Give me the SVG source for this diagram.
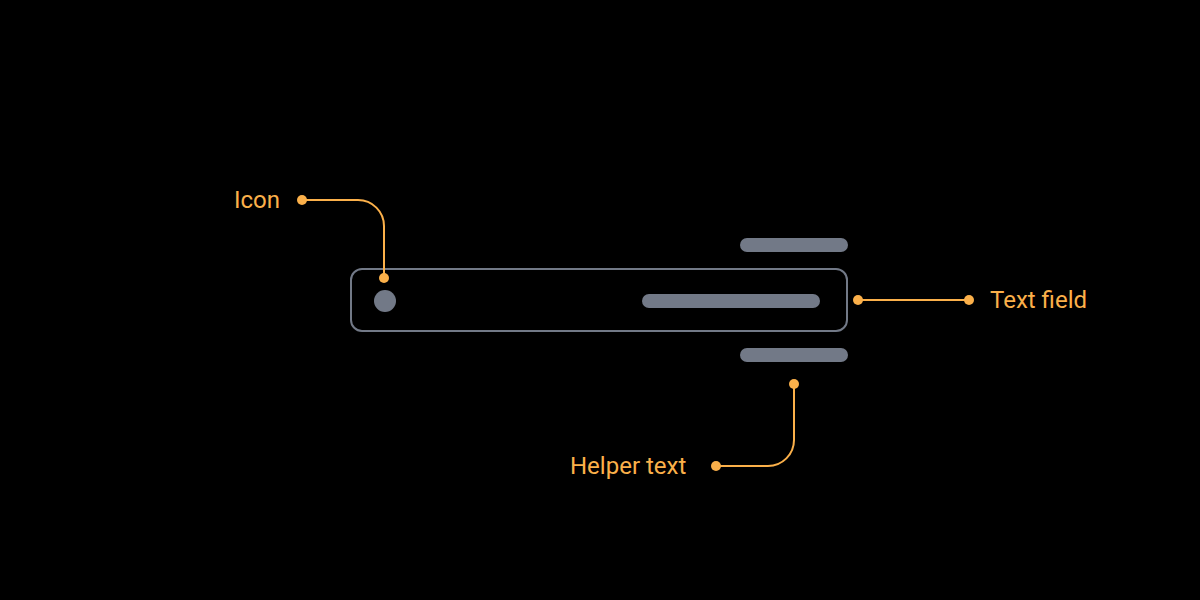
<svg xmlns="http://www.w3.org/2000/svg" width="1200" height="600" viewBox="0 0 1200 600">
<style>
.bar{fill:#727987}
.lbl{font-family:Roboto,"Liberation Sans",sans-serif;font-size:24px;fill:#fbb04a}
.ln{fill:none;stroke:#fbb04a;stroke-width:2}
.dot{fill:#fbb04a}
</style>
<rect width="1200" height="600" fill="#000"/>
<g id="field">
<rect x="351" y="269" width="496" height="62" rx="11" fill="none" stroke="#727987" stroke-width="2"/>
<circle cx="385" cy="301" r="11" class="bar"/>
<rect x="642" y="294" width="178" height="14" rx="7" class="bar"/>
</g>
<g id="bar-top"><rect x="740" y="238" width="108" height="14" rx="7" class="bar"/></g>
<g id="bar-bottom"><rect x="740" y="348" width="108" height="14" rx="7" class="bar"/></g>
<g id="connectors">
<path class="ln" d="M302 200H358A26 26 0 0 1 384 226V278"/>
<path class="ln" d="M858 300H969"/>
<path class="ln" d="M794 384V440A26 26 0 0 1 768 466H716"/>
<circle class="dot" cx="302" cy="200" r="5"/>
<circle class="dot" cx="384" cy="278" r="5"/>
<circle class="dot" cx="858" cy="300" r="5"/>
<circle class="dot" cx="969" cy="300" r="5"/>
<circle class="dot" cx="794" cy="384" r="5"/>
<circle class="dot" cx="716" cy="466" r="5"/>
</g>
<g id="label-icon"><text class="lbl" x="234" y="208">Icon</text></g>
<g id="label-text-field"><text class="lbl" x="990" y="308">Text field</text></g>
<g id="label-helper"><text class="lbl" x="570" y="474">Helper text</text></g>
</svg>
